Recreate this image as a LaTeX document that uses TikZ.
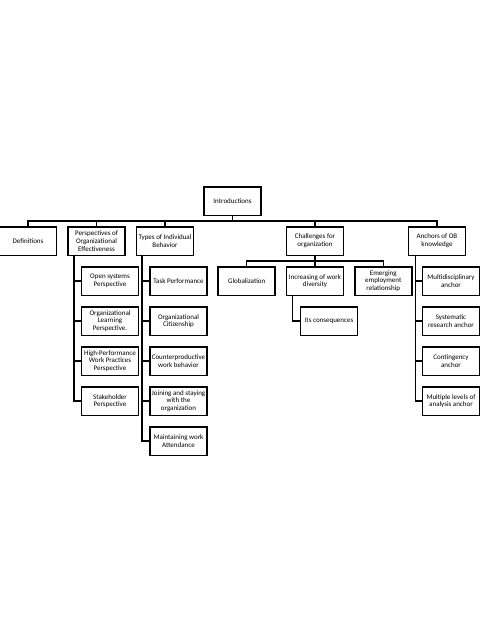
\documentclass[tikz,border=0pt]{standalone}
\usepackage{fontspec}
\setmainfont{Carlito}
\usepackage{tikz}

\begin{document}
\begin{tikzpicture}[x=1pt,y=-1pt,
    box/.style={draw, line width=1.5pt, minimum width=57pt, minimum height=28.5pt,
        align=center, inner sep=0.5pt, font=\fontsize{7}{7.7}\selectfont},
    link/.style={line width=1.5pt}]
    \useasboundingbox (0,0) rectangle (480,640);

    % Root
    \node[box] (intro) at (232.5,201) {Introductions};

    % First level
    \node[box] (def) at (28,241) {Definitions};
    \node[box] (persp) at (96.5,241) {Perspectives of\\Organizational\\Effectiveness};
    \node[box] (types) at (165,241) {Types of Individual\\Behavior};
    \node[box] (chall) at (315,241) {Challenges for\\organization};
    \node[box] (anch) at (437,241) {Anchors of OB\\knowledge};

    % Perspectives
    \node[box] (open) at (110,281) {Open systems\\Perspective};
    \node[box] (learn) at (110,321) {Organizational\\Learning\\Perspective.};
    \node[box] (hpwp) at (110,361) {High-Performance\\Work Practices\\Perspective};
    \node[box] (stake) at (110,401) {Stakeholder\\Perspective};

    % Types of behavior
    \node[box] (task) at (178.5,281) {Task Performance};
    \node[box] (citiz) at (178.5,321) {Organizational\\Citizenship};
    \node[box] (counter) at (178.5,361) {Counterproductive\\work behavior};
    \node[box] (join) at (178.5,401) {Joining and staying\\with the\\organization};
    \node[box] (attend) at (178.5,441) {Maintaining work\\Attendance};

    % Challenges
    \node[box] (glob) at (246.7,281) {Globalization};
    \node[box] (divers) at (315,281) {Increasing of work\\diversity};
    \node[box] (emerg) at (383.3,281) {Emerging\\employment\\relationship};
    \node[box] (conseq) at (329,321) {Its consequences};

    % Anchors
    \node[box] (multi) at (451,281) {Multidisciplinary\\anchor};
    \node[box] (syst) at (451,321) {Systematic\\research anchor};
    \node[box] (conting) at (451,361) {Contingency\\anchor};
    \node[box] (levels) at (451,401) {Multiple levels of\\analysis anchor};

    % Connections from root
    \coordinate (introbus) at (232.5,221);
    \foreach \n in {def,persp,types,chall,anch}
        \draw[link] (intro) -- (introbus) -| (\n.north);

    % Connections for challenges
    \coordinate (challbus) at (315,261);
    \foreach \n in {glob,divers,emerg}
        \draw[link] (chall) -- (challbus) -| (\n.north);

    % Side stems
    \coordinate (perspstem) at ([xshift=-22.5pt]persp.south);
    \foreach \n in {open,learn,hpwp,stake}
        \draw[link] (perspstem) |- (\n.west);

    \coordinate (typesstem) at ([xshift=-23pt]types.south);
    \foreach \n in {task,citiz,counter,join,attend}
        \draw[link] (typesstem) |- (\n.west);

    \coordinate (diversstem) at ([xshift=-22.3pt]divers.south);
    \draw[link] (diversstem) |- (conseq.west);

    \coordinate (anchstem) at ([xshift=-21.3pt]anch.south);
    \foreach \n in {multi,syst,conting,levels}
        \draw[link] (anchstem) |- (\n.west);
\end{tikzpicture}
\end{document}
